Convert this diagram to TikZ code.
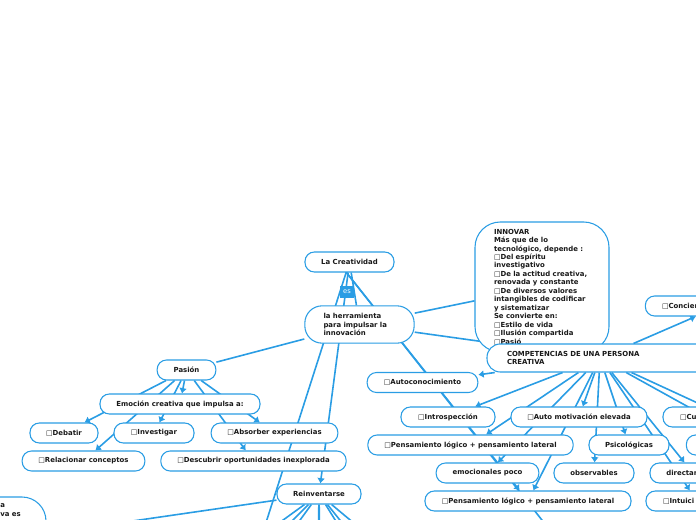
\documentclass[tikz,border=0pt]{standalone}
\usepackage{fontspec}
\setmainfont{DejaVu Sans}
\usetikzlibrary{arrows.meta,backgrounds}
\definecolor{mapblue}{HTML}{2A9DE4}
\newcommand{\chk}{{\mdseries □}}
\tikzset{
  topic/.style={draw=mapblue,line width=0.8pt,fill=white,rounded corners=7pt,minimum height=15pt,inner sep=0pt,font=\fontsize{5.2pt}{6.35pt}\selectfont\bfseries,text=black!90,align=center},
  link/.style={draw=mapblue,line width=1.2pt},
  linktip/.style={link,-{Latex[length=4pt,width=6pt]}},
}
\begin{document}
\begin{tikzpicture}[x=0.75pt,y=0.75pt,yscale=-1,xscale=1]
\useasboundingbox (0,0) rectangle (696,520);
\clip (0,0) rectangle (696,520);

% Free ends below the page
\coordinate (creaFoot) at (346,272);
\coordinate (creaA) at (254,560);
\coordinate (creaB) at (573.5,560);
\coordinate (reinA) at (228,560);
\coordinate (reinB) at (253,560);
\coordinate (reinC) at (271,560);
\coordinate (reinD) at (318,560);
\coordinate (reinE) at (320,560);
\coordinate (reinF) at (360,560);
\coordinate (reinG) at (372,560);
\coordinate (reinH) at (398,560);

% Left side
\node [topic,minimum width=66.75pt] (creatividad) at (349.5,262) {La Creatividad};
\node [topic,minimum width=82pt,minimum height=28pt,rounded corners=13pt,text width=54pt,align=left] (herramienta) at (359.5,324.5) {la herramienta\\para impulsar la\\innovación};
\node [topic,minimum width=44pt] (pasion) at (186.5,370) {Pasión};
\node [topic,minimum width=120pt] (emocion) at (180,404) {Emoción creativa que impulsa a:};
\node [topic,minimum width=51pt] (debatir) at (64,433) {\chk Debatir};
\node [topic,minimum width=60pt] (investigar) at (154,433) {\chk Investigar};
\node [topic,minimum width=95pt] (absorber) at (274.5,433) {\chk Absorber experiencias};
\node [topic,minimum width=92pt] (relacionar) at (83.5,461) {\chk Relacionar conceptos};
\node [topic,minimum width=139pt] (descubrir) at (253.5,461) {\chk Descubrir oportunidades inexplorada};
\node [topic,minimum width=63pt] (reinventarse) at (319,494) {Reinventarse};
\node [topic,minimum width=129pt,minimum height=73.5pt,rounded corners=18pt] (bloque) at (-40,546) {};
\node [anchor=north west,inner sep=0pt,font=\fontsize{5.2pt}{6.35pt}\selectfont\bfseries,text=black!90,align=left] (bloquetxt) at (0,503.5) {a\\va es};

% Right side
\node [topic,minimum width=100.5pt,minimum height=97.5pt,rounded corners=19pt,text width=72pt,align=left] (innovar) at (542,287) {INNOVAR\\Más que de lo\\tecnológico, depende :\\\chk Del espíritu\\investigativo\\\chk De la actitud creativa,\\renovada y constante\\\chk De diversos valores\\intangibles de codificar\\y sistematizar\\Se convierte en:\\\chk Estilo de vida\\\chk Ilusión compartida\\\chk Pasió};
\node [topic,minimum width=169.5pt,minimum height=21pt,rounded corners=10pt,text width=139.5pt,align=left] (competencias) at (600,358) {COMPETENCIAS DE UNA PERSONA\\CREATIVA};
\node [topic,minimum width=112pt,text width=87pt,align=left] (conciencia) at (720,306) {\chk Concien};
\node [topic,minimum width=83pt] (autoconocimiento) at (422.5,382.5) {\chk Autoconocimiento};
\node [topic,minimum width=70.5pt] (introspeccion) at (448,417) {\chk Introspección};
\node [topic,minimum width=102pt] (automotivacion) at (579,417) {\chk Auto motivación elevada};
\node [topic,minimum width=97.5pt,text width=72pt,align=left] (curiosidad) at (728,417) {\chk Cu};
\node [topic,minimum width=154pt] (logicoA) at (470.5,445) {\chk Pensamiento lógico + pensamiento lateral};
\node [topic,minimum width=60pt] (psicologicas) at (629,445) {Psicológicas};
\node [topic,minimum width=106pt] (oculto) at (757,445) {};
\node [topic,minimum width=77pt] (emocionales) at (487.5,473) {emocionales poco};
\node [topic,minimum width=60pt] (observables) at (594,473) {observables};
\node [topic,minimum width=64.5pt,text width=40pt,align=left] (directan) at (693,473) {directan};
\node [topic,minimum width=154.5pt] (logicoB) at (528,501) {\chk Pensamiento lógico + pensamiento lateral};
\node [topic,minimum width=76.5pt,text width=51pt,align=left] (intuicion) at (697,501) {\chk Intuici};

% Connectors behind the nodes
\begin{pgfonlayer}{background}
\clip (0,0) rectangle (696,520);
\draw [link] (creatividad) -- (herramienta);
\draw [link] (creatividad) -- (creaA);
\draw [link] (creaFoot) -- (creaB);
\draw [linktip] (creatividad) -- (reinventarse);
\draw [linktip] (creaFoot) -- (logicoB);
\draw [link] (herramienta) -- (pasion);
\draw [link] (herramienta) -- (innovar);
\draw [link] (herramienta) -- (competencias);
\draw [linktip] (pasion) -- (emocion);
\draw [linktip] (pasion) -- (debatir);
\draw [linktip] (pasion) -- (investigar);
\draw [linktip] (pasion) -- (absorber);
\draw [linktip] (pasion) -- (relacionar);
\draw [linktip] (pasion) -- (descubrir);
\draw [link] (reinventarse) -- (bloque);
\draw [link] (reinventarse) -- (reinA);
\draw [link] (reinventarse) -- (reinB);
\draw [link] (reinventarse) -- (reinC);
\draw [link] (reinventarse) -- (reinD);
\draw [link] (reinventarse) -- (reinE);
\draw [link] (reinventarse) -- (reinF);
\draw [link] (reinventarse) -- (reinG);
\draw [link] (reinventarse) -- (reinH);
\draw [linktip] (competencias) -- (conciencia);
\draw [linktip] (competencias) -- (autoconocimiento);
\draw [linktip] (competencias) -- (introspeccion);
\draw [linktip] (competencias) -- (automotivacion);
\draw [linktip] (competencias) -- (curiosidad);
\draw [linktip] (competencias) -- (logicoA);
\draw [linktip] (competencias) -- (psicologicas);
\draw [linktip] (competencias) -- (oculto);
\draw [linktip] (competencias) -- (emocionales);
\draw [linktip] (competencias) -- (observables);
\draw [linktip] (competencias) -- (directan);
\draw [linktip] (competencias) -- (logicoB);
\draw [linktip] (competencias) -- (intuicion);
\end{pgfonlayer}
% es label
\node [fill=mapblue,text=white,inner sep=0pt,minimum width=11pt,minimum height=9.5pt,font=\fontsize{5pt}{6pt}\selectfont] (esnode) at (347,292) {es};

\end{tikzpicture}
\end{document}
